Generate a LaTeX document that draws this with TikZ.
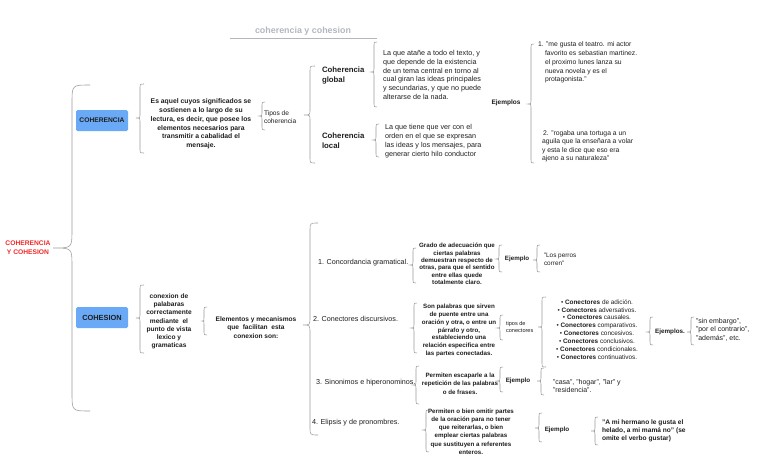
\documentclass[tikz,border=0pt]{standalone}
\usepackage{fontspec}
\setmainfont{Liberation Sans}
\definecolor{bracegray}{HTML}{9A9A9A}
\definecolor{txtcol}{HTML}{1E1E1E}
\definecolor{boxblue}{HTML}{69A9F5}
\definecolor{titlegray}{HTML}{B2B6BE}
\definecolor{rootred}{HTML}{F02828}
\newcommand{\myfs}[2]{\fontsize{#1}{#2}\selectfont}
\newcommand{\mybrace}[6]{%
  \draw[brc] ({#1+#6},#2) .. controls (#1,#2) .. (#1,{#2+#6}) -- (#1,{#4-#6})
    .. controls (#1,#4) .. ({#1-#5},#4) .. controls (#1,#4) .. (#1,{#4+#6})
    -- (#1,{#3-#6}) .. controls (#1,#3) .. ({#1+#6},#3);}
\tikzset{
  brc/.style={draw=bracegray, line width=0.55pt},
  txt/.style={inner sep=0pt, outer sep=0pt, text=txtcol},
  cbox/.style={fill=boxblue, rounded corners=1.5pt, minimum width=52pt, minimum height=21pt, inner sep=0pt, text=txtcol, font=\myfs{6.7}{8}\bfseries},
}
\begin{document}
\begin{tikzpicture}[x=1pt,y=-1pt]
\useasboundingbox (0,0) rectangle (768,466);
% title
\node[inner sep=0pt, text=titlegray, font=\myfs{8.9}{10}\bfseries] (title) at (303,31) {coherencia y cohesion};
\draw[titlegray, line width=1.1pt] (230,38.5) -- (377,38.5);
% root
\node[txt, text=rootred, align=center, font=\myfs{6.7}{9}\bfseries] (root) at (28,247.5) {COHERENCIA\\Y COHESION};
\mybrace{72}{85}{411}{248}{19}{18}
\node[cbox] (coh) at (102,120.5) {COHERENCIA};
\node[cbox, font=\myfs{7.4}{9}\bfseries] (cohs) at (102,317.5) {COHESION};
% coherencia branch
\mybrace{140}{84}{153}{118}{4}{4}
\node[txt, align=center, font=\myfs{6.8}{8.8}\bfseries] (cohdef) at (201,124) {Es aquel cuyos significados se\\sostienen a lo largo de su\\lectura, es decir, que posee los\\elementos necesarios para\\transmitir a cabalidad el\\mensaje.};
\mybrace{262}{102}{130}{116}{3}{3}
\node[txt, anchor=west, align=left, font=\myfs{6.6}{8}] (tipos) at (264,117) {Tipos de\\coherencia};
\mybrace{310}{66}{163}{115}{6}{5}
\node[txt, anchor=west, align=left, font=\myfs{7.8}{9.6}\bfseries] (glob) at (322,75.5) {Coherencia\\global};
\node[txt, anchor=west, align=left, font=\myfs{7.8}{9.6}\bfseries] (loc) at (322,141) {Coherencia\\local};
\mybrace{374}{42}{107}{72}{3}{3}
\node[txt, anchor=west, align=left, font=\myfs{7.2}{8.8}] (globdef) at (383,75) {La que atañe a todo el texto, y\\que depende de la existencia\\de un tema central en torno al\\cual giran las ideas principales\\y secundarias, y que no puede\\alterarse de la nada.};
\mybrace{376}{124}{157}{140}{3}{3}
\node[txt, anchor=west, align=left, font=\myfs{7.2}{9}] (locdef) at (385,141.5) {La que tiene que ver con el\\orden en el que se expresan\\las ideas y los mensajes, para\\generar cierto hilo conductor};
\node[txt, font=\myfs{6.5}{8}\bfseries] (ejs) at (506,103) {Ejemplos};
\mybrace{531}{44}{163}{104}{3}{3}
\node[txt, anchor=west, font=\myfs{6.8}{8.7}] (exa) at (538,45) {1. "me gusta el teatro. mi actor};
\node[txt, anchor=west, align=left, font=\myfs{6.8}{8.7}] (exb) at (545,67) {favorito es sebastian martinez.\\el proximo lunes lanza su\\nueva novela y es el\\protagonista."};
\node[txt, anchor=west, align=left, font=\myfs{6.8}{8.5}] (exc) at (542,146) {\,2. "rogaba una tortuga a un\\aguila que la enseñara a volar\\y esta le dice que eso era\\ajeno a su naturaleza"};
% cohesion branch
\mybrace{140}{285}{353}{318}{4}{4}
\node[txt, align=center, font=\myfs{6.6}{8.2}\bfseries] (cohsdef) at (169,321.5) {conexion de\\palabaras\\correctamente\\mediante\ \ el\\punto de vista\\lexico y\\gramaticas};
\mybrace{204}{307}{335}{321}{2}{3}
\node[txt, align=center, font=\myfs{6.6}{8.5}\bfseries] (elem) at (256,327.5) {Elementos y mecanismos\\que\ \ facilitan\ \ esta\\conexion son:};
\mybrace{310}{223}{435}{325}{7}{8}
\node[txt, anchor=west, font=\myfs{7.2}{9}] (i1) at (318,263) {1. Concordancia gramatical.};
\node[txt, anchor=west, font=\myfs{7.2}{9}] (i2) at (313,319) {2. Conectores discursivos.};
\node[txt, anchor=west, font=\myfs{7.2}{9}] (i3) at (316,383) {3. Sinonimos e hiperonominos.};
\node[txt, anchor=west, font=\myfs{7.2}{9}] (i4) at (312,423) {4. Elipsis y de pronombres.};
% item 1
\mybrace{413}{248}{283}{265}{3}{3}
\node[txt, align=center, font=\myfs{6.2}{7.4}\bfseries] (t1) at (457,264) {Grado de adecuación que\\ciertas palabras\\demuestran respecto de\\otras, para que el sentido\\entre ellas quede\\totalmente claro.};
\mybrace{499}{245}{272}{259}{3}{3}
\node[txt, font=\myfs{6.2}{8}\bfseries] (ej1) at (517,259) {Ejemplo};
\mybrace{537}{245}{272}{260}{4}{3}
\node[txt, anchor=west, align=left, font=\myfs{6.4}{8}] (ex1) at (544,259) {"Los perros\\corren"};
% item 2
\mybrace{414}{303}{353}{328}{3}{3}
\node[txt, align=center, font=\myfs{6.2}{7.8}\bfseries] (t2) at (459,330.5) {Son palabras que sirven\\de puente entre una\\oración y otra, o entre un\\párrafo y otro,\\estableciendo una\\relación especifica entre\\las partes conectadas.};
\mybrace{500}{315}{340}{328}{3}{3}
\node[txt, anchor=west, align=left, font=\myfs{5.6}{7}] (tc) at (506,326.5) {tipos de\\conectores};
\mybrace{542}{297}{367}{327}{4}{4}
\node[txt, align=center, font=\myfs{6.4}{7.9}] (conlist) at (597,329.5) {• \textbf{Conectores} de adición.\\• \textbf{Conectores} adversativos.\\• \textbf{Conectores} causales.\\• \textbf{Conectores} comparativos.\\• \textbf{Conectores} concesivos.\\• \textbf{Conectores} conclusivos.\\• \textbf{Conectores} condicionales.\\• \textbf{Conectores} continuativos.};
\mybrace{650}{317}{345}{332}{3}{3}
\node[txt, font=\myfs{6.3}{8}\bfseries] (ej2) at (670,332) {Ejemplos.};
\mybrace{691}{317}{345}{332}{4}{3}
\node[txt, anchor=west, align=left, font=\myfs{7}{8.5}] (ex2) at (696,329.5) {"sin embargo",\\"por el contrario",\\"además", etc.};
% item 3
\mybrace{416}{366}{404}{385}{3}{3}
\node[txt, align=center, font=\myfs{6.2}{8.5}\bfseries] (t3) at (460,383.5) {Permiten escaparle a la\\repetición de las palabras\\o de frases.};
\mybrace{500}{367}{392}{381}{3}{3}
\node[txt, font=\myfs{6.3}{8}\bfseries] (ej3) at (518,381) {Ejemplo};
\mybrace{541}{368}{395}{381}{4}{3}
\node[txt, anchor=west, align=left, font=\myfs{7}{8.5}] (ex3) at (553,386) {"casa", "hogar", "lar" y\\"residencia".};
% item 4
\mybrace{426}{410}{452}{430}{3}{3}
\node[txt, align=center, font=\myfs{6.2}{8.2}\bfseries] (t4) at (471,431.5) {Permiten o bien omitir partes\\de la oración para no tener\\que reiterarlas, o bien\\emplear ciertas palabras\\que sustituyen a referentes\\enteros.};
\mybrace{539}{413}{442}{428}{4}{3}
\node[txt, font=\myfs{6.3}{8}\bfseries] (ej4) at (557,430) {Ejemplo};
\mybrace{595}{417}{445}{431}{4}{3}
\node[txt, anchor=west, align=left, font=\myfs{6.6}{8}\bfseries] (ex4) at (602,431) {"A mi hermano le gusta el\\helado, a mi mamá no" (se\\omite el verbo gustar)};
\end{tikzpicture}
\end{document}
